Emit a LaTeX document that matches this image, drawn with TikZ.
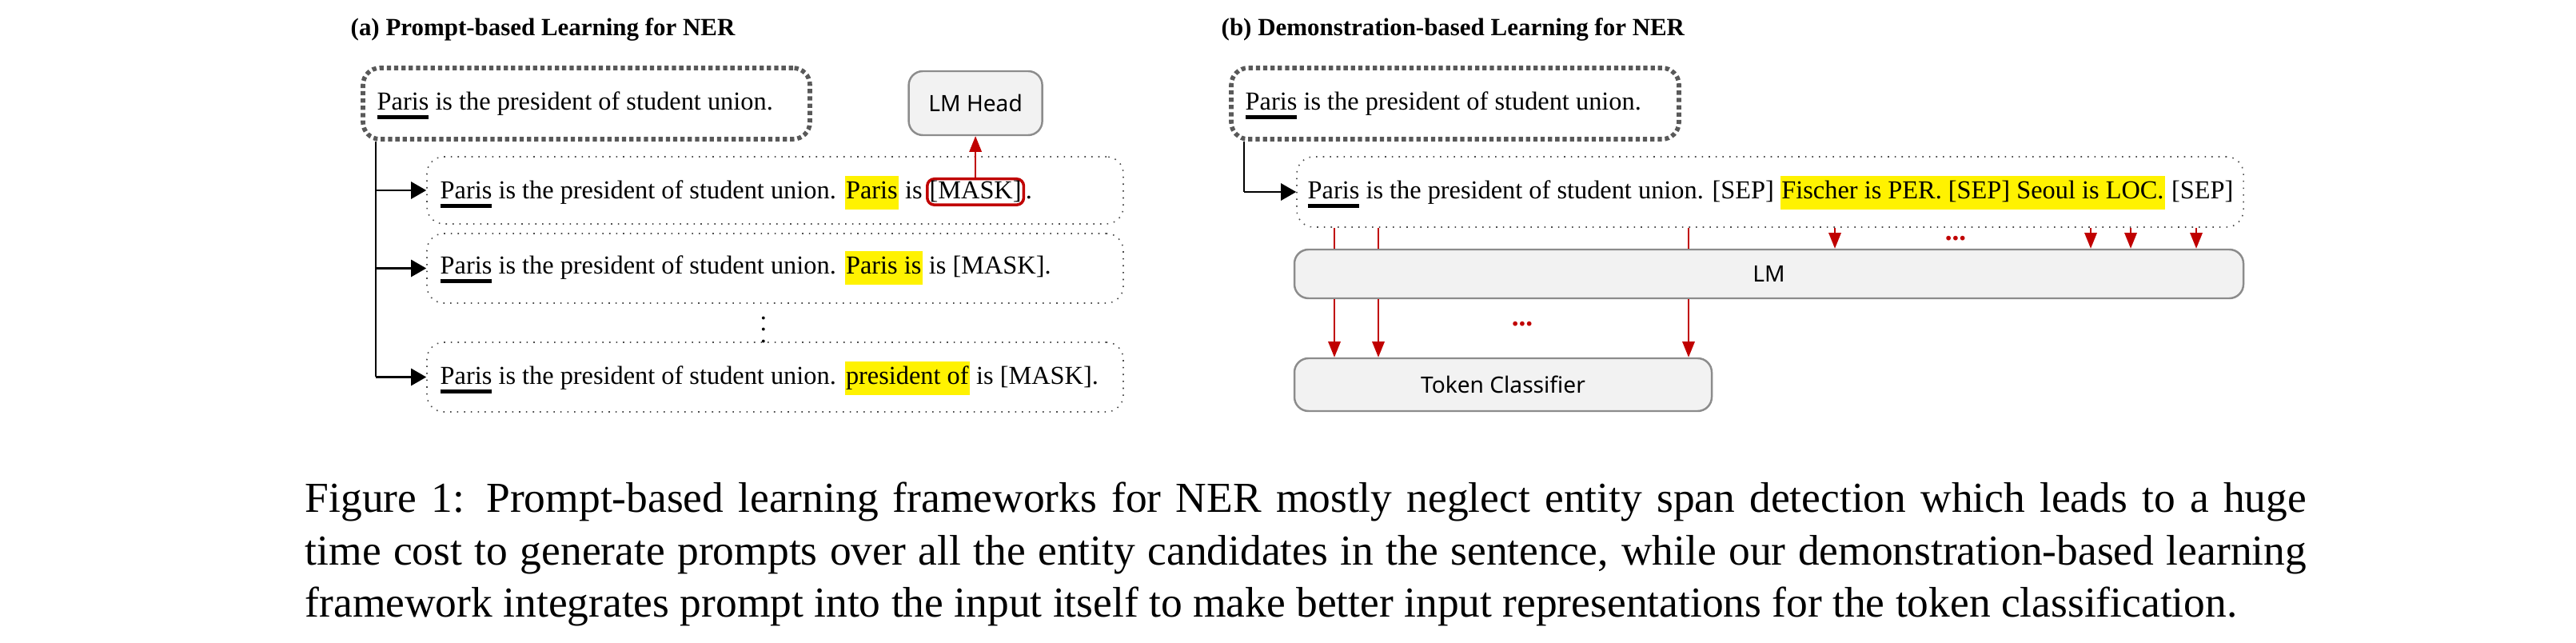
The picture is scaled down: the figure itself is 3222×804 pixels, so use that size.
\documentclass[tikz,border=0pt]{standalone}
\usepackage{fontspec}
\setmainfont{Liberation Serif}
\newfontfamily\lblfont{Noto Sans}
\usetikzlibrary{arrows.meta}
\definecolor{darkred}{HTML}{C00000}
\definecolor{boxfill}{HTML}{F2F2F2}
\definecolor{boxline}{HTML}{8C8C8C}
\definecolor{dashline}{HTML}{595959}
\newcommand\thul[1]{\vtop{\hbox{#1}\kern1.5pt\hrule height 1.4pt}}
\newcommand\hl[1]{{\setlength{\fboxsep}{0.4pt}\colorbox{yellow}{\strut#1}}}

\begin{document}
\begin{tikzpicture}[x=0.01cm, y=-0.01cm,
  txt/.style={inner sep=0pt, font=\fontsize{9.2}{11.3}\selectfont},
  title/.style={inner sep=0pt, anchor=base west, font=\fontsize{8.8}{10}\selectfont\bfseries},
  srcbox/.style={draw=dashline, line width=1.6pt, dash pattern=on 1.5pt off 1.1pt, rounded corners=6pt},
  rowbox/.style={draw=black!70, line width=0.45pt, dotted, rounded corners=6pt},
  module/.style={draw=boxline, fill=boxfill, line width=0.7pt, rounded corners=5pt, font=\lblfont\fontsize{8}{10}\selectfont},
  maskbox/.style={draw=darkred, line width=1pt, rounded corners=2.5pt, inner sep=0.8pt, font=\fontsize{9.2}{11.3}\selectfont},
  feed/.style={-{Triangle[length=5.4pt,width=6pt]}, line width=0.7pt},
  red/.style={darkred, line width=0.5pt},
  redarr/.style={red, -{Triangle[length=5.6pt,width=4.4pt]}},
  reddots/.style={text=darkred, inner sep=0pt, font=\bfseries\fontsize{10}{12}\selectfont}]
  \path[use as bounding box] (0,0) rectangle (3222,804);

  % (a) prompt-based
  \node[title] (ta) at (438,45) {(a) Prompt-based Learning for NER};
  \node[srcbox, minimum width=559*0.01cm, minimum height=89*0.01cm] (srcA) at (733.5,129.5) {};
  \node[txt, anchor=base west] at (471,138) {\thul{Paris} is the president of student union.};

  \node[rowbox, minimum width=871*0.01cm, minimum height=84*0.01cm] (rowA1) at (969.5,238) {};
  \node[rowbox, minimum width=871*0.01cm, minimum height=87*0.01cm] (rowA2) at (969.5,335.5) {};
  \node[rowbox, minimum width=871*0.01cm, minimum height=87*0.01cm] (rowA3) at (969.5,471.5) {};

  \node[txt, anchor=base west] (r1) at (550,249) {\thul{Paris} is the president of student union. \hl{Paris} is\ };
  \node[maskbox, anchor=base west] (mask) at ([xshift=1pt]r1.base east) {[MASK]};
  \node[txt, anchor=base west] (r1end) at (mask.base east) {.};
  \node[txt, anchor=base west] (r2) at (550,343) {\thul{Paris} is the president of student union. \hl{Paris is} is [MASK].};
  \node[txt, anchor=base west] (r3) at (550,481) {\thul{Paris} is the president of student union. \hl{president of} is [MASK].};
  \node[txt] (vd) at (955,402) {$\vdots$};

  \coordinate (headrow) at (0,129);
  \node[module, minimum width=167*0.01cm, minimum height=80*0.01cm] (head) at (mask.north |- headrow) {LM Head};

  \coordinate (trunkA) at (470,0);
  \draw[line width=0.7pt] (trunkA |- srcA.south) -- (trunkA |- rowA3.west);
  \foreach \r in {rowA1,rowA2,rowA3}
    \draw[feed] (trunkA |- \r.west) -- (\r.west);
  \draw[redarr] (mask.north) -- (head.south);

  % (b) demonstration-based
  \node[title] (tb) at (1527,45) {(b) Demonstration-based Learning for NER};
  \node[srcbox, minimum width=560*0.01cm, minimum height=89*0.01cm] (srcB) at (1820,129.5) {};
  \node[txt, anchor=base west] at (1557,138) {\thul{Paris} is the president of student union.};
  \node[rowbox, minimum width=1184*0.01cm, minimum height=88*0.01cm] (rowB) at (2214,240) {};
  \node[txt, anchor=base west] (rb) at (1635,249) {\thul{Paris} is the president of student union. [SEP] \hl{Fischer is PER. [SEP] Seoul is LOC.} [SEP]};
  \node[module, minimum width=1187*0.01cm, minimum height=61*0.01cm] (lm) at (2212.5,342.5) {LM};
  \node[module, minimum width=522*0.01cm, minimum height=66*0.01cm] (tok) at (1880,481) {Token Classifier};

  \coordinate (trunkB) at (1556,0);
  \draw[line width=0.7pt] (trunkB |- srcB.south) -- (trunkB |- rowB.west);
  \draw[feed] (trunkB |- rowB.west) -- (rowB.west);

  \foreach \x in {1669,1724,2112} {
    \coordinate (col) at (\x,0);
    \draw[red] (col |- rowB.south) -- (col |- lm.north);
    \draw[redarr] (col |- lm.south) -- (col |- tok.north);
  }
  \foreach \x in {2295,2615,2665,2747} {
    \coordinate (col) at (\x,0);
    \draw[redarr] (col |- rowB.south) -- (col |- lm.north);
  }
  \node[reddots] (dotsLM) at (2446,298) {...};
  \node[reddots] (dotsTok) at (1904,405) {...};

  % caption
  \node[inner sep=0pt, anchor=base west, text width=2503*0.01cm, align=justify,
        font=\fontsize{15.2}{18.5}\selectfont] (cap) at (381,641)
    {Figure 1: Prompt-based learning frameworks for NER mostly neglect entity span detection which leads to a huge\linebreak
     time cost to generate prompts over all the entity candidates in the sentence, while our demonstration-based learning\linebreak
     framework integrates prompt into the input itself to make better input representations for the token classification.};
\end{tikzpicture}
\end{document}
